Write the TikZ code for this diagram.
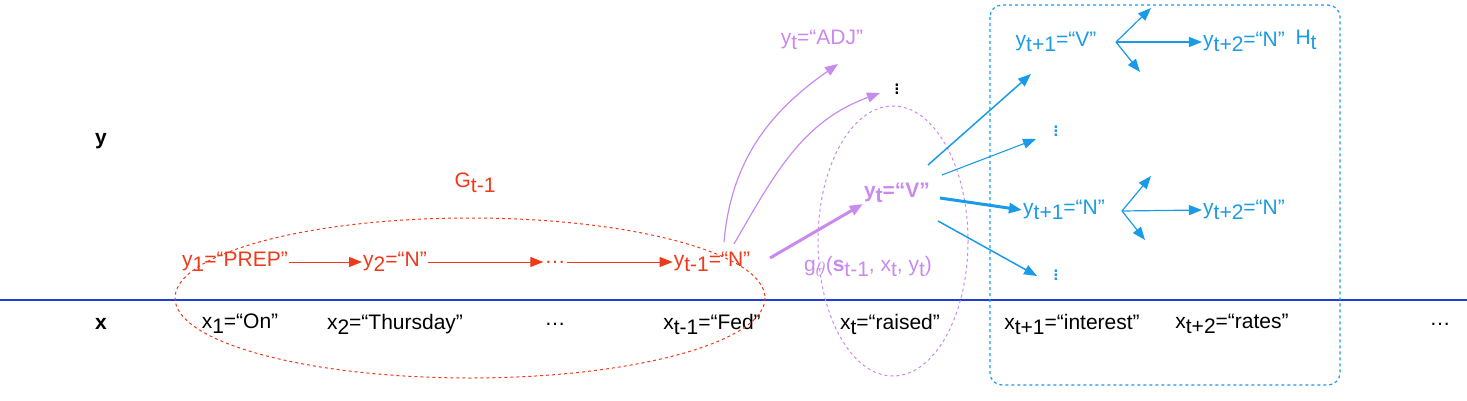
\documentclass[tikz,border=0pt]{standalone}
\usepackage{fontspec}
\setmainfont{Liberation Sans}
\usetikzlibrary{arrows.meta}
\definecolor{rd}{HTML}{EE3A1A}
\definecolor{pu}{HTML}{C98AF0}
\definecolor{bl}{HTML}{1A9BE8}
\definecolor{ln}{HTML}{1F3FD0}
\newcommand{\mysb}[1]{\raisebox{-0.45ex}{\fontsize{21}{21}\selectfont #1}}
\begin{document}
\begin{tikzpicture}[x=1pt,y=-1pt,
  lab/.style={font=\fontsize{21}{24}\selectfont,inner sep=1pt},
  arr/.style={-{Triangle[length=13pt,width=10pt]},line width=1.2pt}]
\useasboundingbox (0,0) rectangle (1467,401);
\draw[ln,line width=1.2pt] (0,300) -- (1467,300);
\node[lab,font=\fontsize{21}{24}\selectfont\bfseries] (ylab) at (101,141) {y};
\node[lab,font=\fontsize{21}{24}\selectfont\bfseries] (xlab) at (101,324) {x};
% x row
\node[lab] (x1) at (240,324) {x\mysb{1}=“On”};
\node[lab] (x2) at (395,324) {x\mysb{2}=“Thursday”};
\node[lab] (xd) at (555,324) {…};
\node[lab] (xt1) at (712,324) {x\mysb{t-1}=“Fed”};
\node[lab] (xt) at (890,324) {x\mysb{t}=“raised”};
\node[lab] (xp1) at (1072,324) {x\mysb{t+1}=“interest”};
\node[lab] (xp2) at (1232,324) {x\mysb{t+2}=“rates”};
\node[lab] (xe) at (1440,324) {…};
% red
\node[lab,rd] (y1) at (235,262) {y\mysb{1}=“PREP”};
\node[lab,rd] (y2) at (395,262) {y\mysb{2}=“N”};
\node[lab,rd] (yd) at (555,262) {…};
\node[lab,rd] (ym) at (712,262) {y\mysb{t-1}=“N”};
\draw[rd,arr,line width=1pt] (y1) -- (y2);
\draw[rd,arr,line width=1pt] (y2) -- (yd);
\draw[rd,arr,line width=1pt] (yd) -- (ym);
\draw[rd,dashed,line width=1pt] (470,298) ellipse [x radius=295,y radius=80];
\node[lab,rd] (G) at (475,183) {G\mysb{t-1}};
% purple
\node[lab,pu,font=\fontsize{21}{24}\selectfont\bfseries] (yv) at (897,193) {y\mysb{\bfseries t}=“V”};
\node[lab,pu] (yadj) at (822,40) {y\mysb{t}=“ADJ”};
\node[lab,font=\fontsize{24}{24}\selectfont] (pd) at (897,86) {$\vdots$};
\draw[pu,dashed,line width=1pt] (893,241) ellipse [x radius=75,y radius=135];
\node[lab,pu] (g) at (868,266) {g\mysb{$\theta$}(\textbf{s}\mysb{t-1}, x\mysb{t}, y\mysb{t})};
\coordinate (a1) at (724,242);
\coordinate (a2) at (734,244);
\draw[pu,arr] (a1) to[out=85,in=215] (838,64);
\draw[pu,arr] (a2) to[out=60,in=200] (880,93);
\draw[pu,arr,line width=3pt] (770,258) -- (yv.south west);
% blue
\draw[bl,dashed,line width=1.2pt,rounded corners=12pt] (990,5) rectangle (1340,385);
\node[lab,bl] (H) at (1306,40) {H\mysb{t}};
\node[lab,bl] (v1) at (1056,42) {y\mysb{t+1}=“V”};
\node[lab,bl] (v2) at (1244,42) {y\mysb{t+2}=“N”};
\node[lab,bl,font=\fontsize{24}{24}\selectfont] (bd1) at (1056,128) {$\vdots$};
\node[lab,bl] (n1) at (1064,210) {y\mysb{t+1}=“N”};
\node[lab,bl] (n2) at (1244,210) {y\mysb{t+2}=“N”};
\node[lab,bl,font=\fontsize{24}{24}\selectfont] (bd2) at (1056,272) {$\vdots$};
\draw[bl,arr,line width=1.5pt] (928,165) -- (1031,74);
\draw[bl,arr,line width=1.1pt] (942,175) -- (1036,139);
\draw[bl,arr,line width=3pt] (940,198) -- (n1.west);
\draw[bl,arr,line width=1.5pt] (938,221) -- (1037,276);
\coordinate (bv) at (1116,42);
\coordinate (bn) at (1122,211);
\draw[bl,arr] (bv) -- (1151,8);
\draw[bl,arr] (bv) -- (v2.west);
\draw[bl,arr] (bv) -- (1140,72);
\draw[bl,arr] (bn) -- (1151,176);
\draw[bl,arr] (bn) -- (n2.west);
\draw[bl,arr] (bn) -- (1145,240);
\end{tikzpicture}
\end{document}
